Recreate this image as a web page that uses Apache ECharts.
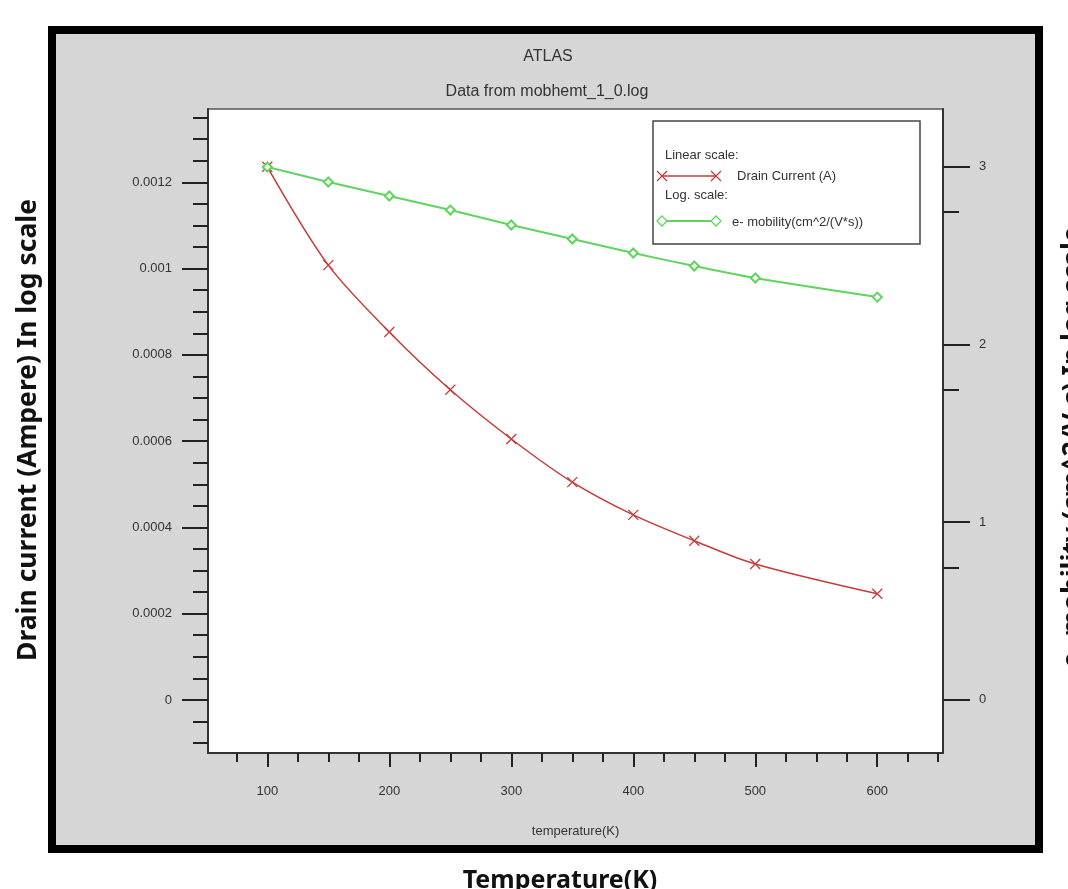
<!DOCTYPE html>
<html lang="en">
<head>
<meta charset="UTF-8">
<title>ATLAS - mobhemt_1_0.log</title>
<style>
    html, body { margin: 0; padding: 0; background: #fff; }
    #main { width: 1068px; height: 889px; }
</style>
</head>
<body>
<div id="main"></div>
<script src="https://cdn.jsdelivr.net/npm/echarts@6/dist/echarts.min.js"></script>
<script>
    // temperature (K)
    var temps = [100, 150, 200, 250, 300, 350, 400, 450, 500, 600];
    // drain current (A) - left axis
    var drainCurrent = [0.001236, 0.001008, 0.000853, 0.000719, 0.000605, 0.000505, 0.000429, 0.000369, 0.000315, 0.000246];
    // e- mobility, log scale - right axis
    var mobilityLog = [2.998, 2.914, 2.835, 2.756, 2.672, 2.593, 2.514, 2.441, 2.373, 2.266];

    // tick values
    var xMajor = [100, 200, 300, 400, 500, 600];
    var xMinor = [75, 125, 150, 175, 225, 250, 275, 325, 350, 375, 425, 450, 475, 525, 550, 575, 625, 650];
    var leftMajor = [0, 0.0002, 0.0004, 0.0006, 0.0008, 0.001, 0.0012];
    var leftMinor = [-0.0001, -0.00005, 0.00005, 0.0001, 0.00015, 0.00025, 0.0003, 0.00035, 0.00045, 0.0005, 0.00055,
        0.00065, 0.0007, 0.00075, 0.00085, 0.0009, 0.00095, 0.00105, 0.0011, 0.00115, 0.00125, 0.0013, 0.00135];
    var rightMajor = [0, 1, 2, 3];
    var rightMinor = [0.744, 1.744, 2.744];

    var RED = '#c93a3a';
    var GREEN = '#5fd45f';
    var FONT = '"Liberation Sans", Arial, sans-serif';
    var BIG = '"Noto Sans", "Open Sans", sans-serif';

    var myChart = echarts.init(document.getElementById('main'));

    function tickAxis(o) {
        return {
            type: 'value',
            position: o.pos,
            min: o.min, max: o.max,
            axisLine: { show: o.line, onZero: false, lineStyle: { color: '#333', width: 2 } },
            axisTick: { show: true, customValues: o.ticks, length: o.len, lineStyle: { color: '#222', width: 2 } },
            axisLabel: o.labels ? {
                show: true, customValues: o.ticks, margin: o.margin,
                color: '#333', fontSize: 13, fontFamily: FONT
            } : { show: false },
            splitLine: { show: false }
        };
    }

    var option = {
        animation: false,
        backgroundColor: '#fff',
        grid: {
            left: 208, top: 109, width: 735, height: 644,
            show: true, backgroundColor: '#fff', borderColor: '#555', borderWidth: 1.5,
            outerBoundsMode: 'none'
        },
        xAxis: [
            Object.assign(tickAxis({ pos: 'bottom', min: 51.4, max: 653.9, line: true, ticks: xMajor, len: 14, labels: true, margin: 32 }), {
                name: 'temperature(K)', nameLocation: 'middle', nameGap: 72,
                nameTextStyle: { color: '#333', fontSize: 13, fontFamily: FONT }
            }),
            tickAxis({ pos: 'bottom', min: 51.4, max: 653.9, line: false, ticks: xMinor, len: 9, labels: false })
        ],
        yAxis: [
            tickAxis({ pos: 'left', min: -0.000123, max: 0.00137, line: true, ticks: leftMajor, len: 26, labels: true, margin: 36 }),
            tickAxis({ pos: 'left', min: -0.000123, max: 0.00137, line: false, ticks: leftMinor, len: 15, labels: false }),
            tickAxis({ pos: 'right', min: -0.301, max: 3.325, line: true, ticks: rightMajor, len: 27, labels: true, margin: 36 }),
            tickAxis({ pos: 'right', min: -0.301, max: 3.325, line: false, ticks: rightMinor, len: 16, labels: false })
        ],
        series: [
            {
                name: 'Drain Current (A)',
                type: 'line',
                xAxisIndex: 0, yAxisIndex: 0,
                data: temps.map(function (t, i) { return [t, drainCurrent[i]]; }),
                smooth: 0.3,
                symbol: 'path://M0,0L10,10M10,0L0,10',
                symbolSize: 10,
                itemStyle: { color: 'rgba(0,0,0,0)', borderColor: RED, borderWidth: 1.3 },
                lineStyle: { color: RED, width: 1.5 },
                z: 3
            },
            {
                name: 'e- mobility(cm^2/(V*s))',
                type: 'line',
                xAxisIndex: 0, yAxisIndex: 2,
                data: temps.map(function (t, i) { return [t, mobilityLog[i]]; }),
                smooth: 0.3,
                symbol: 'emptyDiamond',
                symbolSize: 9,
                itemStyle: { color: GREEN, borderWidth: 1.3 },
                lineStyle: { color: GREEN, width: 2 },
                z: 4
            }
        ],
        graphic: [
            // gray panel with thick black frame
            { type: 'rect', z: -10, silent: true,
              shape: { x: 52, y: 30, width: 987, height: 819 },
              style: { fill: '#d6d6d6', stroke: '#000', lineWidth: 8 } },
            // titles
            { type: 'text', z: 5, x: 548, y: 57, style: { text: 'ATLAS', font: '16px ' + FONT, fill: '#333', align: 'center', verticalAlign: 'middle' } },
            { type: 'text', z: 5, x: 547, y: 92, style: { text: 'Data from mobhemt_1_0.log', font: '16px ' + FONT, fill: '#333', align: 'center', verticalAlign: 'middle' } },
            // legend box
            { type: 'rect', z: 10, shape: { x: 653, y: 121, width: 267, height: 123 },
              style: { fill: '#fff', stroke: '#444', lineWidth: 1.5 } },
            { type: 'text', z: 11, x: 665, y: 155, style: { text: 'Linear scale:', font: '13px ' + FONT, fill: '#333', verticalAlign: 'middle' } },
            { type: 'line', z: 11, shape: { x1: 662, y1: 176, x2: 715, y2: 176 }, style: { stroke: RED, lineWidth: 1.5 } },
            { type: 'polyline', z: 11, shape: { points: [[657, 171], [667, 181]] }, style: { stroke: RED, lineWidth: 1.3 } },
            { type: 'polyline', z: 11, shape: { points: [[667, 171], [657, 181]] }, style: { stroke: RED, lineWidth: 1.3 } },
            { type: 'polyline', z: 11, shape: { points: [[711, 171], [721, 181]] }, style: { stroke: RED, lineWidth: 1.3 } },
            { type: 'polyline', z: 11, shape: { points: [[721, 171], [711, 181]] }, style: { stroke: RED, lineWidth: 1.3 } },
            { type: 'text', z: 11, x: 737, y: 176, style: { text: 'Drain Current (A)', font: '13px ' + FONT, fill: '#333', verticalAlign: 'middle' } },
            { type: 'text', z: 11, x: 665, y: 195, style: { text: 'Log. scale:', font: '13px ' + FONT, fill: '#333', verticalAlign: 'middle' } },
            { type: 'line', z: 11, shape: { x1: 662, y1: 221, x2: 715, y2: 221 }, style: { stroke: GREEN, lineWidth: 2 } },
            { type: 'polygon', z: 12, shape: { points: [[662, 216], [667, 221], [662, 226], [657, 221]] }, style: { fill: '#fff', stroke: GREEN, lineWidth: 1.3 } },
            { type: 'polygon', z: 12, shape: { points: [[716, 216], [721, 221], [716, 226], [711, 221]] }, style: { fill: '#fff', stroke: GREEN, lineWidth: 1.3 } },
            { type: 'text', z: 11, x: 732, y: 222, style: { text: 'e- mobility(cm^2/(V*s))', font: '13px ' + FONT, fill: '#333', verticalAlign: 'middle' } },
            // outer annotations
            { type: 'text', z: 5, x: 28, y: 430, rotation: Math.PI / 2,
              style: { text: 'Drain current (Ampere) In log scale', font: 'bold 26.5px ' + BIG, fill: '#111', align: 'center', verticalAlign: 'middle' } },
            { type: 'text', z: 5, x: 1073, y: 447, rotation: Math.PI / 2,
              style: { text: 'e- mobility (cm^2/V-s) In log scale', font: 'bold 26.5px ' + BIG, fill: '#111', align: 'center', verticalAlign: 'middle' } },
            { type: 'text', z: 5, x: 560, y: 881,
              style: { text: 'Temperature(K)', font: 'bold 25px ' + BIG, fill: '#111', align: 'center', verticalAlign: 'middle' } }
        ]
    };

    myChart.setOption(option);
</script>
</body>
</html>
